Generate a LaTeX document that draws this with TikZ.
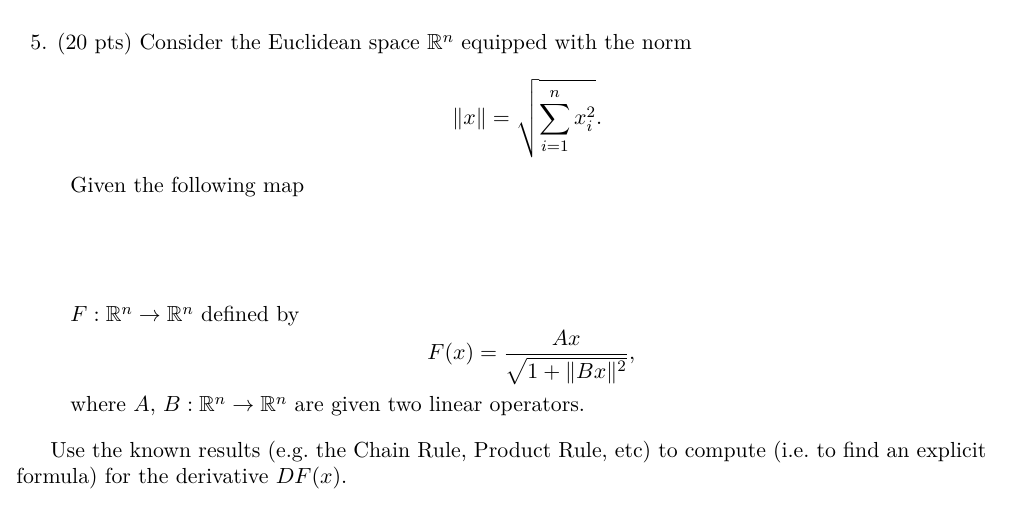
\documentclass[tikz,border=0pt]{standalone}
\usepackage{amsmath,amssymb}
\begin{document}
\begin{tikzpicture}[x=0.5pt,y=-0.5pt,every node/.style={font=\fontsize{10.9pt}{13pt}\selectfont},txt/.style={anchor=base west,inner sep=0pt}]
\useasboundingbox[fill=white] (0,0) rectangle (1024,518);
\node[txt] (l1) at (30,50) {5. (20 pts) Consider the Euclidean space $\mathbb{R}^n$ equipped with the norm};
\node[txt] (nrm) at (452,125) {$\displaystyle \|x\| = \sqrt{\sum_{i=1}^{n} x_i^2}.$};
\node[txt] (l2) at (70,193) {Given the following map};
\node[txt] (l3) at (70,322) {$F:\mathbb{R}^n\to\mathbb{R}^n$ defined by};
\node[txt] (fx) at (427,360) {$\displaystyle F(x) = \frac{Ax}{\sqrt{1+\|Bx\|^2}},$};
\node[txt] (l4) at (70,412) {where $A,\,B:\mathbb{R}^n\to\mathbb{R}^n$ are given two linear operators.};
\node[txt,text width=970*0.5pt,align=justify] (l5) at (16,458) {\hspace*{17pt}Use the known results (e.g.\ the Chain Rule, Product Rule, etc) to compute (i.e.\ to find an explicit formula) for the derivative $DF(x)$.};
\end{tikzpicture}
\end{document}
